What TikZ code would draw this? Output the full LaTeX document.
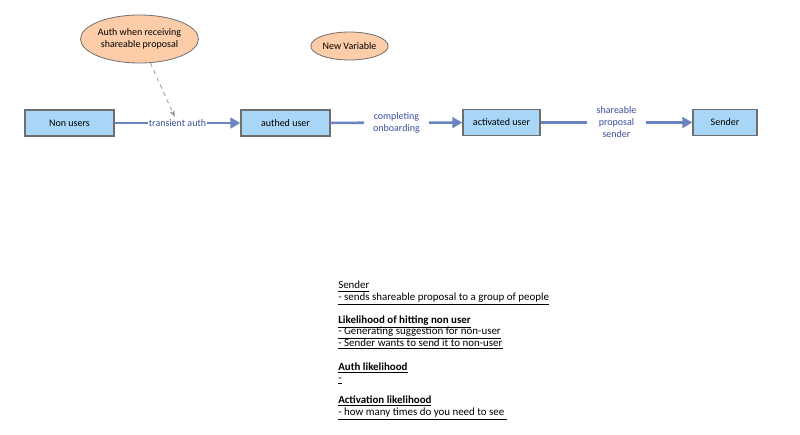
\documentclass[tikz,border=0pt]{standalone}
\usepackage{fontspec}
\setmainfont{Carlito}
\usetikzlibrary{arrows.meta,shapes.geometric}
\definecolor{boxfill}{HTML}{A9D5F7}
\definecolor{boxline}{HTML}{6E6E6E}
\definecolor{ellfill}{HTML}{FDCCA8}
\definecolor{edgecol}{HTML}{6A84C0}
\definecolor{labcol}{HTML}{3A4E9C}
\newcommand{\notesfontx}{\fontsize{8.2}{8.6}\selectfont\lineskiplimit=-20pt\relax}
\begin{document}
\begin{tikzpicture}[x=0.75pt,y=-0.75pt,
  statebox/.style={draw=boxline,line width=1pt,fill=boxfill,minimum height=19.5pt,inner sep=0pt,font=\fontsize{7.5}{9}\selectfont},
  varell/.style={ellipse,draw=boxline,line width=0.6pt,fill=ellfill,inner sep=0pt,align=center,font=\fontsize{7.5}{9}\selectfont},
  flow/.style={draw=edgecol,line width=2pt,-{Triangle[length=7.5pt,width=8pt]}},
  flowlab/.style={fill=white,text=labcol,inner sep=1pt,align=center,font=\fontsize{7.5}{9}\selectfont},
  dep/.style={draw=gray!80,dashed,line width=0.6pt,-{Stealth[length=5pt,width=4pt]}},
  notes/.style={anchor=north west,align=left,inner sep=0pt,font=\notesfontx}
]
\useasboundingbox (0,0) rectangle (800,435);
\node[statebox,minimum width=66.75pt] (nonusers) at (69.5,123) {Non users};
\node[statebox,minimum width=66.75pt] (authed) at (285.5,123) {authed user};
\node[statebox,minimum width=57.75pt] (activated) at (501.5,122.5) {activated user};
\node[statebox,minimum width=48pt] (sender) at (725,122.5) {Sender};
\node[varell,minimum width=77pt,minimum height=36pt] (authvar) at (139.5,39) {Auth when receiving\\shareable proposal};
\node[varell,minimum width=58pt,minimum height=21pt] (newvar) at (349.5,46) {New Variable};

\draw[flow] (nonusers) -- node[flowlab] (translab) {transient auth} (authed);
\draw[flow] (authed) -- node[flowlab,inner xsep=7pt] (onblab) {completing\\onboarding} (activated);
\draw[flow] (activated) -- node[flowlab,inner xsep=7pt] (sharelab) {shareable\\proposal\\sender} (sender);
\draw[dep] (authvar) -- (translab);

\node[notes] (notestext) at (338,281) {%
\underline{Sender}\\
\underline{- sends shareable proposal to a group of people}\\[8.6pt]
\underline{\textbf{Likelihood of hitting non user}}\\
\underline{- Generating suggestion for non-user}\\
\underline{- Sender wants to send it to non-user}\\[9.4pt]
\underline{\textbf{Auth likelihood}}\\
\underline{-}\\[8pt]
\underline{\textbf{Activation likelihood}}\\
\underline{- how many times do you need to see\ }};
\end{tikzpicture}
\end{document}
